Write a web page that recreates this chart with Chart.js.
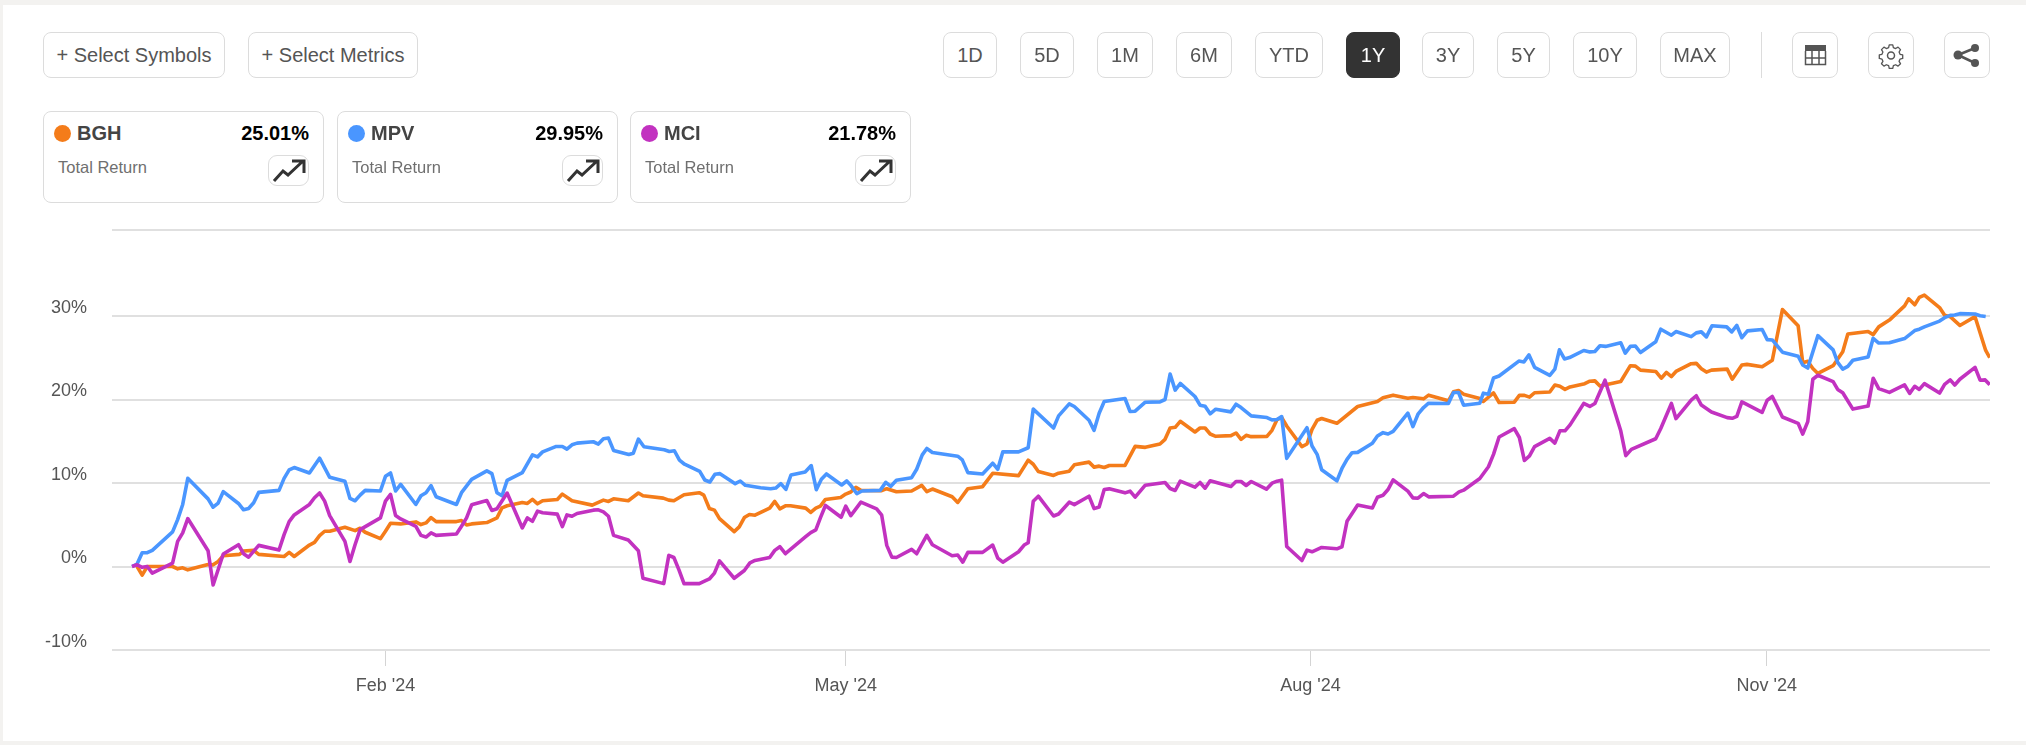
<!DOCTYPE html>
<html>
<head>
<meta charset="utf-8">
<title>BGH MPV MCI Total Return</title>
<script src="https://cdn.jsdelivr.net/npm/chart.js@4"></script>
<style>
  html, body { margin: 0; padding: 0; background: #f3f2f0; }
  body { width: 2026px; height: 745px; overflow: hidden; font-family: "Liberation Sans", Arial, sans-serif; }
  #page { position: absolute; left: 3px; top: 5px; right: 0; height: 736px; background: #fff; }
  #chartBox { position: absolute; left: 0; top: 0; width: 2026px; height: 745px; }
  .btn {
    position: absolute; top: 32px; height: 44px; line-height: 44px; text-align: center;
    border: 1px solid #dcdcdc; border-radius: 8px; font-size: 20px; color: #555; background: #fff;
  }
  .btn.on { background: #333; border-color: #333; color: #fff; }
  .btn svg { position: absolute; left: 0; top: 0; }
  .divider { position: absolute; left: 1761px; top: 32px; width: 1px; height: 46px; background: #dcdcdc; }
  .card {
    position: absolute; top: 111px; height: 90px; border: 1px solid #dcdcdc; border-radius: 8px; background: #fff;
  }
  .dot { position: absolute; left: 10px; top: 13px; width: 17px; height: 17px; border-radius: 50%; }
  .sym { position: absolute; left: 33px; top: 10px; font-size: 20px; line-height: 22px; font-weight: bold; color: #444; }
  .val { position: absolute; right: 14px; top: 10px; font-size: 20px; line-height: 22px; font-weight: bold; color: #000; }
  .lbl { position: absolute; left: 14px; top: 45px; font-size: 16.5px; line-height: 20px; color: #6f6f6f; }
  .trend { position: absolute; right: 14px; top: 43px; width: 39px; height: 29px; border: 1px solid #dcdcdc; border-radius: 9px; }
</style>
</head>
<body>
<div id="page"></div>
<div id="chartBox"><canvas id="myChart" width="2026" height="745"></canvas></div>

<div class="btn" style="left:43px;width:180px">+ Select Symbols</div>
<div class="btn" style="left:248px;width:168px">+ Select Metrics</div>

<div class="btn" style="left:943px;width:52px">1D</div>
<div class="btn" style="left:1020px;width:52px">5D</div>
<div class="btn" style="left:1097px;width:54px">1M</div>
<div class="btn" style="left:1176px;width:54px">6M</div>
<div class="btn" style="left:1255px;width:66px">YTD</div>
<div class="btn on" style="left:1346px;width:52px">1Y</div>
<div class="btn" style="left:1422px;width:50px">3Y</div>
<div class="btn" style="left:1497px;width:51px">5Y</div>
<div class="btn" style="left:1573px;width:62px">10Y</div>
<div class="btn" style="left:1660px;width:68px">MAX</div>
<div class="divider"></div>

<div class="btn" style="left:1792px;width:44px">
  <svg width="46" height="46" viewBox="0 0 46 46">
    <rect x="12" y="12" width="21" height="6" fill="#555"/>
    <path d="M12.5 18v13.5h20V18M12.5 25h20M19 18v13.5M26 18v13.5" fill="none" stroke="#555" stroke-width="1.5"/>
  </svg>
</div>
<div class="btn" style="left:1868px;width:44px">
  <svg width="46" height="46" viewBox="0 0 46 46">
    <g fill="none" stroke="#555" stroke-width="1.5" stroke-linejoin="round">
      <circle cx="22" cy="22.5" r="3.5"/>
      <path d="M21 12h4l.7 3 2.6 1.1 2.7-1.6 2.8 2.8-1.6 2.7 1.1 2.6 3 .7v4l-3 .7-1.1 2.6 1.6 2.7-2.8 2.8-2.7-1.6-2.6 1.1-.7 3h-4l-.7-3-2.6-1.1-2.7 1.6-2.8-2.8 1.6-2.7-1.1-2.6-3-.7v-4l3-.7 1.1-2.6-1.6-2.7 2.8-2.8 2.7 1.6 2.6-1.1z" transform="translate(22 22.5) scale(.88) translate(-23 -24)"/>
    </g>
  </svg>
</div>
<div class="btn" style="left:1944px;width:44px">
  <svg width="46" height="46" viewBox="0 0 46 46">
    <path d="M13 22 30 15M13 22 30 30" stroke="#555" stroke-width="2.5" fill="none"/>
    <circle cx="13" cy="22" r="4.5" fill="#555"/>
    <circle cx="30" cy="15" r="4" fill="#555"/>
    <circle cx="30" cy="30" r="4" fill="#555"/>
  </svg>
</div>

<div class="card" style="left:43px;width:279px">
  <div class="dot" style="background:#f47c1a"></div><div class="sym">BGH</div><div class="val">25.01%</div>
  <div class="lbl">Total Return</div>
  <div class="trend"><svg width="39" height="29" viewBox="0 0 39 29"><path d="M5 25 14 15 19 19 33 6M23 5H35V17" fill="none" stroke="#333" stroke-width="3"/></svg></div>
</div>
<div class="card" style="left:337px;width:279px">
  <div class="dot" style="background:#4a96ff"></div><div class="sym">MPV</div><div class="val">29.95%</div>
  <div class="lbl">Total Return</div>
  <div class="trend"><svg width="39" height="29" viewBox="0 0 39 29"><path d="M5 25 14 15 19 19 33 6M23 5H35V17" fill="none" stroke="#333" stroke-width="3"/></svg></div>
</div>
<div class="card" style="left:630px;width:279px">
  <div class="dot" style="background:#c232c0"></div><div class="sym">MCI</div><div class="val">21.78%</div>
  <div class="lbl">Total Return</div>
  <div class="trend"><svg width="39" height="29" viewBox="0 0 39 29"><path d="M5 25 14 15 19 19 33 6M23 5H35V17" fill="none" stroke="#333" stroke-width="3"/></svg></div>
</div>

<script>
'use strict';

// DATA - days counted from the first point of the chart, values in percent

let tickDays = [50, 140.8, 232.5, 322.5];
let tickLabels = ["Feb '24", "May '24", "Aug '24", "Nov '24"];
// top grid line sits a little above 40 in the picture, it has no label
let yTicks = [-10, 0, 10, 20, 30, 40.3];

let mpvDays = [0,1,2,3,4,8,9,10,11,15,16,17,18,21,22,23,24,25,29,30,31,32,35,37,39,42,43,44,45,46,49,50,51,52,53,56,57,58,59,60,64,65,67,70,71,72,73,74,77,79,80,81,
  83.7,84.9,85.8,86.8,87.8,91,92,93,94,95,98,98.9,99.9,101,105,106,107,108,109,112,113,114,115,116,119,120,121,124,126,127,128,129,130,132.8,134,135,136,137,140,141,141.8,143,144,147.6,148.7,149.7,150.8,153.8,154.8,155.9,156.8,157.9,162.9,163.8,164.9,167.8,169.8,170.8,171.8,174.9,176.8,177.8,
  181.8,182.8,184.9,185.9,188.8,189.8,190.8,191.8,195.9,196.9,197.9,199.9,202.8,203.8,204.8,205.8,206.8,209.7,210.7,211.7,212.7,213.8,216.8,217.8,218.8,220.8,223.9,224.9,225.9,226.8,227.8,231.8,232.8,233.8,234.7,237.7,238.7,239.7,240.7,241.8,244.7,245.7,246.8,247.8,248.8,251.7,252.7,253.7,254.8,255.8,259.7,260.7,261.7,262.7,265.9,266.6,267.6,268.6,269.7,
  273.6,274.6,275.6,276.7,279.7,280.7,281.6,282.6,283.6,286.4,287.6,288.6,289.6,290.7,293.7,294.6,295.6,296.6,297.6,300.6,301.6,303.7,304.6,307.6,308.6,309.6,310.6,311.7,314.6,315.6,316.6,317.6,318.7,321.6,322.6,323.6,325.6,328.7,329.6,330.6,332.6,335.6,336.5,337.5,338.5,339.5,342.5,343.5,344.6,346.7,349.7,350.7,351.7,352.6,353.6,356.6,357.6,358.7,359.6,360.6,363.6,364.6,365.7];
let mpvValues = [0,0.3,1.65,1.65,1.94,4.14,5.62,7.43,10.56,8.1,7.1,7.6,8.96,7.55,6.79,6.95,7.63,8.88,9.12,10.56,11.57,11.85,11.2,12.97,10.68,10.2,8.15,7.87,8.55,9.12,9.04,10.8,11.2,9.04,9.84,7.43,8.47,8.84,9.68,8.35,7.43,8.84,10.44,11.45,11.12,8.84,8.47,10.32,11.24,13.37,13.13,13.73,
  14.38,14.38,14.06,14.58,14.78,14.94,14.66,15.3,15.38,13.9,13.41,13.57,15.26,14.34,13.98,13.78,13.86,12.73,12.25,11.4,10.36,10.12,11.04,11.12,9.92,10.24,9.72,9.44,9.32,9.4,9.92,9.24,10.96,11.32,12.09,9.2,10.44,11.08,9.76,10.24,9.72,8.72,9.04,9.12,10.08,9.6,10.32,10.64,11.65,13.37,14.14,13.65,13.21,12.77,11.24,11.08,12.37,11.65,13.73,13.73,14.22,18.85,
  16.59,18.04,19.48,19.16,17.51,16.31,18.36,19.76,20.12,18.56,18.6,19.68,19.72,20,23.05,21.12,21.92,20.36,19.32,19.2,18.28,18.84,18.52,19.44,19.04,18.04,17.84,17.56,17.6,17.96,12.95,16.63,14.43,13.43,11.58,10.26,11.74,12.83,13.63,13.67,14.75,15.63,16.03,15.87,16.19,18.36,16.75,18.24,19.04,19.56,19.52,20.84,20.84,19.32,19.56,20.76,20.64,22.57,22.81,
  24.6,24.5,25.34,23.85,22.9,23.64,25.95,24.86,25.02,25.87,25.7,25.75,26.44,26.36,26.8,25.55,26.36,26.4,25.63,26.92,28.42,27.7,28.14,27.53,27.98,28.1,27.5,28.83,28.7,28.1,28.87,27.4,28.22,28.38,27.17,27.13,25.67,25.18,24.13,23.77,27.65,25.95,24.45,23.64,23.97,24.7,25.1,27.33,26.76,26.8,27.3,27.77,28.26,28.42,28.7,29.39,29.8,30.08,30.12,30.28,30.24,30.04,29.95];

let bghDays = [1,2,3,8,9,10,11,15,16,17,18,21.2,22,24,25,30,31,32,35,36,37,38,39,42,44,45,46,49,50,51,53,56,57,58,59,60,64,65,66,67,70,72,73,74,77,78,79,80,81,
  83.9,84.9,86.8,90.8,93,94,95,97.9,99.9,100.8,104.8,105.9,106.9,108.9,111.9,112.8,113.9,114.9,115.9,118.8,119.8,120.8,121.8,122.9,125.8,126.8,127.8,128.9,129.9,132.9,133.9,134.9,135.8,136.8,139.8,140.8,141.8,142.8,143.8,147.9,148.9,150.8,153.8,155.8,156.8,157.9,161.8,162.9,164.9,167.8,169.8,174.9,176.8,177.8,178.8,
  181.8,182.8,184.9,185.9,188.8,189.8,190.8,191.8,192.8,195.9,197.9,199.9,202.8,203.8,204.8,205.8,206.8,209.7,210.7,211.7,212.7,213.8,216.8,217.8,218.8,219.8,220.8,223.9,224.9,225.9,226.8,227.8,230.8,231.8,232.8,233.8,234.7,237.7,241.8,245.7,246.8,248.8,251.7,252.7,254.8,255.8,259.7,260.7,261.7,262.7,265.9,266.6,268.6,269.7,
  272.7,273.7,274.7,275.7,276.7,279.7,280.7,281.7,282.7,283.7,286.6,287.6,288.6,289.6,293.7,295.6,296.6,297.6,300.6,301.7,302.7,303.7,304.6,307.6,308.6,309.6,310.6,311.6,314.7,315.7,317.6,318.6,321.6,323.6,325.6,328.7,329.6,330.6,331.6,332.6,335.6,337.5,338.5,342.5,343.5,344.6,346.7,349.7,350.5,351.7,352.6,353.6,356.6,357.6,358.7,360.6,363.6,365.7,366.5];
let bghValues = [0,-1.04,0,0,-0.28,-0.16,-0.4,0.24,0.2,0.6,1.29,1.45,1.85,1.93,1.45,1.2,1.69,1.2,2.57,2.89,3.69,4.22,4.22,4.7,4.3,4.58,4.1,3.33,4.22,5.18,5.1,5.34,5.02,5.22,5.86,5.38,5.38,5.5,4.98,5.1,5.26,5.82,7.03,7.27,7.67,7.55,8.03,7.51,7.87,
  8.03,8.67,7.87,7.35,7.95,7.79,8.11,7.87,8.8,8.47,8.19,7.95,7.87,8.59,8.84,8.55,6.95,6.75,5.74,4.18,4.74,5.86,6.22,6.14,6.99,7.79,6.91,7.27,7.27,6.99,6.47,6.99,7.23,8.03,8.27,8.67,8.92,9.48,9.12,9.08,9.32,8.96,9.04,9.72,8.96,9.28,8.35,7.67,9.32,9.56,11.16,10.88,12.73,12.25,11.38,
  10.9,11.18,11.42,12.18,12.5,11.9,12.02,11.86,12.1,12.1,14.39,14.27,14.67,15.23,16.59,16.67,17.39,16.11,16.59,16.59,15.87,15.59,15.67,15.99,15.23,15.71,15.55,15.59,16.31,17.6,17.84,16.83,14.35,14.67,16.43,17.51,17.72,17.15,19.16,19.76,20.2,20.52,20.16,20.24,20.08,20.52,19.84,20.92,21.08,20.64,20.12,19.76,20.8,19.64,
  19.68,20.49,20.49,20.28,20.81,20.89,21.74,21.58,21.21,21.5,21.9,22.19,22.23,21.62,22.15,24.05,24,23.52,23.36,22.55,23.24,22.75,23.36,24.29,24.33,23.68,23.28,23.52,23.64,22.43,24.13,24.21,23.93,24.7,30.77,28.83,24.41,24.57,23.72,23.12,24.05,25.71,27.85,28.14,27.77,28.7,29.51,31.21,32.06,31.34,32.23,32.51,31.01,30.08,29.92,28.87,29.92,25.87,25.01];

let mciDays = [0,1,2,3,4,8,9,10,11,15,16,18,21,22,23,25,29,30,31,32,35,36,37,38,39,42,43,44,45,49,50,51,52,53,56,57,58,59,60,64,65,66,67,70,71,72,74,77,78,79,80,81,
  83.9,84.9,85.8,86.8,87.8,91,92,93,94,95,97.9,99.9,100.8,104.9,105.9,106.9,107.9,108.9,111.9,113.9,114.9,115.9,118.8,120.8,121.9,122.9,125.8,126.8,127.8,128.9,132.9,133.9,134.9,135.8,136.8,139.9,140.8,141.8,143.8,146.9,147.9,148.9,149.9,150.8,153.8,154.8,156.8,157.9,161.8,162.9,163.9,164.9,167.8,169.8,170.8,171.8,174.9,176,176.8,177.8,178.8,
  181.8,182.8,184.9,185.9,188.8,189.8,190.8,191.8,192.8,195.9,196.9,197.9,199.9,203.8,204.8,205.8,206.8,209.7,210.7,211.7,212.7,216.8,217.8,218.8,219.8,220.8,223.8,224.9,225.9,226.8,227.8,230.8,231.8,232.8,234.7,237.7,238.7,239.7,241.8,244.7,245.7,246.8,247.8,248.8,251.7,252.7,253.7,254.8,255.8,260.7,261.8,262.7,265.9,267.6,268.6,269.7,
  272.7,273.7,274.7,275.7,276.7,279.7,280.7,281.7,282.7,283.7,286.4,287.6,288.6,290.6,293.7,294.7,295.8,300.6,301.6,303.7,304.6,307.6,308.6,309.6,311.6,314.7,315.7,316.6,317.6,321.6,322.6,323.6,325.6,328.7,329.6,330.6,331.6,332.6,335.6,336.5,337.5,339.5,342.5,343.5,344.6,346.7,349.7,350.7,351.7,352.6,353.6,356.6,357.6,358.7,359.6,360.6,363.6,364.6,365.6,366.5];
let mciValues = [0,0.2,-0.1,0,-0.8,0.4,3.01,4.02,5.74,1.89,-2.21,1.49,2.61,1.53,1.12,2.53,1.97,3.82,5.38,6.18,7.43,8.23,8.8,7.83,6.1,3.01,0.6,2.61,4.42,5.82,7.83,8.63,6.1,5.7,4.82,3.73,3.53,4.02,3.73,3.9,4.82,5.82,7.39,7.91,6.71,6.91,8.8,4.62,5.82,5.42,6.63,6.43,
  6.27,4.78,6.18,6.02,6.35,6.75,6.79,6.55,6.02,3.73,3.17,1.89,-1.41,-2.05,1.33,1.08,-0.4,-2.05,-2.05,-1.49,-0.8,0.68,-1.41,-0.48,0.44,0.72,1.08,1.93,2.37,1.53,3.57,4.06,4.38,5.82,7.31,5.9,7.23,6.1,7.71,6.91,6.14,2.53,1.12,1.08,2.05,1.53,3.73,2.61,1.29,1.37,0.52,1.69,1.69,2.57,1,0.52,1.77,2.57,2.85,7.82,8.42,
  6.05,6.29,7.7,7.41,8.42,6.93,7.13,9.22,9.3,8.82,9.02,8.3,9.74,10.06,9.34,9.1,10.22,9.5,10.06,9.38,10.26,9.58,10.18,10.18,9.7,10.18,9.26,9.98,10.22,10.34,2.4,0.72,1.96,1.76,2.28,2.12,2.36,5.41,7.37,7.01,8.3,8.54,9.22,10.38,9.02,8.22,8.18,8.74,8.34,8.42,8.94,9.14,10.54,11.94,13.43,15.51,
  16.52,15.45,12.69,13.24,14.35,15.34,14.78,16.25,16.25,16.96,19.53,19.17,19.53,22.31,16.25,13.28,14.03,15.3,16.52,19.53,17.71,19.92,20.45,19.33,18.5,17.83,17.75,17.98,19.72,18.46,19.92,20.36,17.9,17.15,15.85,17.35,22.43,22.9,22.15,21.21,20.81,18.85,19.21,22.55,21.3,20.85,21.74,20.73,21.58,21.21,21.9,20.77,21.82,22.35,21.74,22.43,23.85,22.31,22.35,21.78];

// HELPERS

function toPoints(days, values) {
  let points = [];
  for (let i = 0; i < days.length; i++) {
    points.push({ x: days[i], y: values[i] });
  }
  return points;
}

function makeSeries(name, days, values, color) {
  return {
    label: name,
    data: toPoints(days, values),
    borderColor: color,
    borderWidth: 3.6,
    pointRadius: 0,
    tension: 0,
    borderJoinStyle: 'round',
    fill: false
  };
}

// CHART

const data = {
  datasets: [
    makeSeries('MCI', mciDays, mciValues, '#c232c0'),
    makeSeries('MPV', mpvDays, mpvValues, '#4a96ff'),
    makeSeries('BGH', bghDays, bghValues, '#f47c1a')
  ]
};

const config = {
  type: 'line',
  data: data,
  options: {
    responsive: false,
    animation: false,
    parsing: false,
    normalized: true,
    layout: { padding: { left: 0, right: 36, top: 230, bottom: 0 } },
    plugins: { legend: { display: false }, tooltip: { enabled: false } },
    scales: {
      x: {
        type: 'linear',
        min: -3.95,
        max: 366.55,
        afterBuildTicks: function (scale) {
          scale.ticks = tickDays.map(function (d) { return { value: d }; });
        },
        afterFit: function (scale) { scale.height = 95; },
        border: { display: false },
        grid: { drawOnChartArea: false, drawTicks: true, tickLength: 16, color: '#d4d4d4', lineWidth: 1 },
        ticks: {
          autoSkip: false,
          maxRotation: 0,
          padding: 9,
          color: '#555',
          font: { family: '"Liberation Sans", Arial, sans-serif', size: 18 },
          callback: function (value, index) { return tickLabels[index]; }
        }
      },
      y: {
        min: yTicks[0],
        max: yTicks[yTicks.length - 1],
        afterBuildTicks: function (scale) {
          scale.ticks = yTicks.map(function (v) { return { value: v }; });
        },
        afterFit: function (scale) { scale.width = 112; },
        border: { display: false },
        grid: { drawTicks: false, color: '#e0e0e0', lineWidth: 2 },
        ticks: {
          padding: 25,
          labelOffset: -8,
          color: '#555',
          font: { family: '"Liberation Sans", Arial, sans-serif', size: 18 },
          callback: function (value) { return value > 30 ? '' : value + '%'; }
        }
      }
    }
  }
};

const myChart = new Chart(document.getElementById('myChart'), config);
</script>
</body>
</html>
